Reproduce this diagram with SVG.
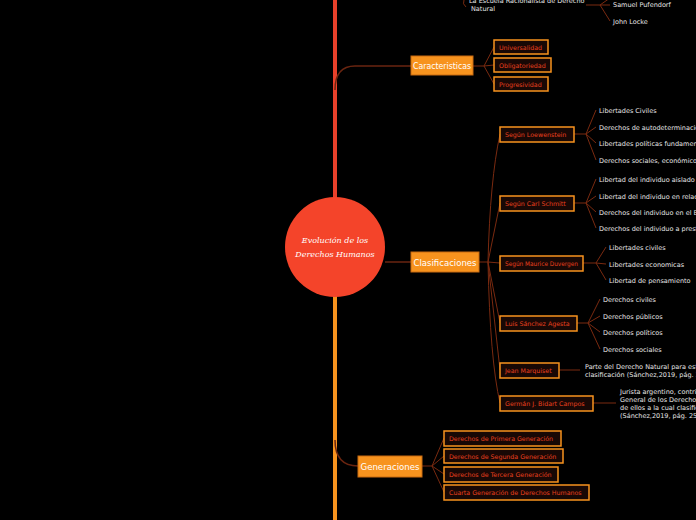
<svg xmlns="http://www.w3.org/2000/svg" width="696" height="520" viewBox="0 0 696 520">
<style>
.b{fill:#f7931e;stroke:#c86a10;stroke-width:1}
.bt{font-family:"DejaVu Sans",sans-serif;font-size:9px;fill:#fff}
.l{fill:#180805;stroke:#f7931e;stroke-width:1.5}
.lt{font-family:"DejaVu Sans",sans-serif;font-size:6.3px;fill:#e8401e}
.w{font-family:"DejaVu Sans",sans-serif;font-size:6.5px;fill:#e6e6e6}
.c{fill:none;stroke:#7a2a10;stroke-width:1}
.c2{fill:none;stroke:#6a2510;stroke-width:1.5}
</style>
<rect width="696" height="520" fill="#000"/>
<g id="connectors">
<line x1="335" y1="0" x2="335" y2="200" stroke="#e8402a" stroke-width="4"/>
<line x1="335" y1="295" x2="335" y2="520" stroke="#f7931e" stroke-width="4"/>
<path class="c2" d="M335,90 Q335,66 355,66 L411,66"/>
<path class="c2" d="M385,262 L411,262"/>
<path class="c2" d="M335,440 Q335,466 358,466"/>
<path class="c" d="M473,66 L484,66 M484,66 L494,47 M484,66 L494,65 M484,66 L494,84"/>
<path class="c" d="M479,262 L488,262 M488,262 Q490,180 500,134 M488,262 L500,203 M488,262 L500,263 M488,262 L500,323 M488,262 L500,370 M488,262 Q490,360 500,403"/>
<path class="c" d="M574,134 L586,134 M586,134 L596,110 M586,134 L596,127 M586,134 L596,143 M586,134 L596,160"/>
<path class="c" d="M574,203 L586,203 M586,203 L596,179 M586,203 L596,196 M586,203 L596,212 M586,203 L596,228"/>
<path class="c" d="M583,263 L596,263 M596,263 L606,247 M596,263 L606,264 M596,263 L606,280"/>
<path class="c" d="M577,323 L588,323 M588,323 L600,299 M588,323 L600,316 M588,323 L600,332 M588,323 L600,349"/>
<path class="c" d="M559,370 L580,370 M593,403 L616,403"/>
<path class="c" d="M422,466 L432,466 M432,466 L444,438 M432,466 L444,456 M432,466 L444,474 M432,466 L444,492"/>
<path class="c" d="M464,0 Q462,4 466,7"/>
<path class="c" d="M586,5 L600,5 M600,5 L610,-2 M600,5 L610,5 M600,5 L610,21" stroke="#c0302a"/>
</g>
<g id="root">
<circle cx="335" cy="247" r="50" fill="#f4442a"/>
<text x="335" y="243" text-anchor="middle" font-family="DejaVu Serif,serif" font-style="italic" font-size="8" fill="#fff">Evolución de los</text>
<text x="335" y="257" text-anchor="middle" font-family="DejaVu Serif,serif" font-style="italic" font-size="8" fill="#fff">Derechos Humanos</text>
</g>
<g id="top">
<text class="w" x="469" y="3">La Escuela Racionalista de Derecho</text>
<text class="w" x="471" y="11">Natural</text>
<text class="w" x="613" y="7">Samuel Pufendorf</text>
<text class="w" x="613" y="24">John Locke</text>
</g>
<g id="caracteristicas">
<rect class="b" x="411" y="56" width="62" height="19"/>
<text class="bt" x="442" y="69" text-anchor="middle" textLength="58" lengthAdjust="spacingAndGlyphs">Caracteristicas</text>
<rect class="l" x="494" y="40" width="54" height="14"/><text class="lt" x="499" y="50">Universalidad</text>
<rect class="l" x="494" y="58" width="57" height="14"/><text class="lt" x="499" y="68">Obligatoriedad</text>
<rect class="l" x="494" y="77" width="54" height="14"/><text class="lt" x="499" y="87">Progresividad</text>
</g>
<g id="clasificaciones">
<rect class="b" x="411" y="252" width="68" height="20"/>
<text class="bt" x="445" y="266" text-anchor="middle" textLength="63" lengthAdjust="spacingAndGlyphs">Clasificaciones</text>
<rect class="l" x="500" y="127" width="74" height="15"/><text class="lt" x="505" y="137">Según Loewenstein</text>
<text class="w" x="599" y="113">Libertades Civiles</text>
<text class="w" x="599" y="130">Derechos de autodeterminación</text>
<text class="w" x="599" y="146">Libertades políticas fundamentales</text>
<text class="w" x="599" y="163">Derechos sociales, económicos</text>
<rect class="l" x="500" y="196" width="74" height="15"/><text class="lt" x="505" y="206">Según Carl Schmitt</text>
<text class="w" x="599" y="182">Libertad del individuo aislado</text>
<text class="w" x="599" y="199">Libertad del individuo en relación</text>
<text class="w" x="599" y="215">Derechos del individuo en el Estado</text>
<text class="w" x="599" y="231">Derechos del individuo a prestaciones</text>
<rect class="l" x="500" y="256" width="83" height="15"/><text class="lt" x="505" y="266" textLength="73" lengthAdjust="spacingAndGlyphs">Según Maurice Duvergen</text>
<text class="w" x="609" y="250">Libertades civiles</text>
<text class="w" x="609" y="267">Libertades economicas</text>
<text class="w" x="609" y="283">Libertad de pensamiento</text>
<rect class="l" x="500" y="316" width="77" height="15"/><text class="lt" x="505" y="326">Luis Sánchez Agesta</text>
<text class="w" x="603" y="302">Derechos civiles</text>
<text class="w" x="603" y="319">Derechos públicos</text>
<text class="w" x="603" y="335">Derechos políticos</text>
<text class="w" x="603" y="352">Derechos sociales</text>
<rect class="l" x="500" y="363" width="59" height="15"/><text class="lt" x="505" y="373">Jean Marquiset</text>
<text class="w" x="585" y="369">Parte del Derecho Natural para establecer su</text>
<text class="w" x="585" y="377">clasificación (Sánchez,2019, pág. 25)</text>
<rect class="l" x="500" y="396" width="93" height="15"/><text class="lt" x="505" y="406">Germán J. Bidart Campos</text>
<text class="w" x="620" y="394">Jurista argentino, contribuyó</text>
<text class="w" x="620" y="402">General de los Derechos</text>
<text class="w" x="620" y="410">de ellos a la cual clasifica</text>
<text class="w" x="620" y="418">(Sánchez,2019, pág. 25)</text>
</g>
<g id="generaciones">
<rect class="b" x="358" y="456" width="64" height="21"/>
<text class="bt" x="390" y="470" text-anchor="middle" textLength="59" lengthAdjust="spacingAndGlyphs">Generaciones</text>
<rect class="l" x="444" y="431" width="117" height="15"/><text class="lt" x="449" y="441">Derechos de Primera Generación</text>
<rect class="l" x="444" y="449" width="119" height="14"/><text class="lt" x="449" y="459">Derechos de Segunda Generación</text>
<rect class="l" x="444" y="467" width="114" height="15"/><text class="lt" x="449" y="477">Derechos de Tercera Generación</text>
<rect class="l" x="444" y="485" width="145" height="15"/><text class="lt" x="449" y="495">Cuarta Generación de Derechos Humanos</text>
</g>
</svg>
